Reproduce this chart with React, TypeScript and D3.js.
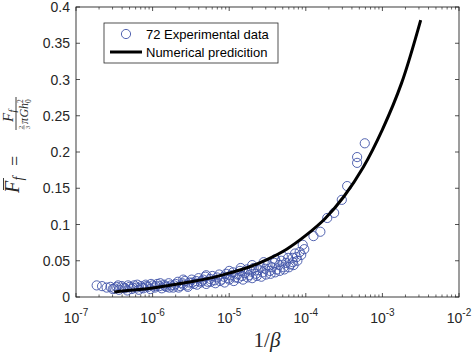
import React from "react";
import * as d3 from "d3";

// Experimental data: log10(1/beta) and F_f
const expLogInvBeta = [
  -6.73, -6.66, -6.6, -6.52,
  -6.47, -6.44, -6.4, -6.36, -6.33, -6.3, -6.27, -6.24, -6.21, -6.18, -6.15, -6.12, -6.09, -6.06, -6.03, -6.0,
  -5.97, -5.94, -5.91, -5.88, -5.85, -5.82, -5.79, -5.76, -5.73, -5.7, -5.67, -5.64, -5.61, -5.58, -5.55, -5.52,
  -5.49, -5.46, -5.43, -5.4, -5.37, -5.34, -5.31, -5.28, -5.25, -5.22, -5.19, -5.16, -5.13, -5.1, -5.07, -5.04, -5.01,
  -4.98, -4.95, -4.92, -4.89, -4.86, -4.83, -4.8, -4.77, -4.74, -4.71, -4.68, -4.65, -4.62, -4.59, -4.56, -4.53, -4.5,
  -4.47, -4.44, -4.41, -4.38, -4.35, -4.32, -4.29, -4.26, -4.23, -4.2, -4.17, -4.14, -4.11, -4.08, -4.04, -4.17,
  -3.9, -3.81, -3.72, -3.63, -3.53, -3.46, -3.33, -3.33, -3.23,
  -6.55, -6.5, -6.45, -6.38, -6.32, -6.26, -6.2, -6.14, -6.08, -6.02, -5.96, -5.9, -5.84, -5.78, -5.72, -5.66,
  -5.6, -5.54, -5.48, -5.42, -5.36, -5.3, -5.24, -5.18, -5.12, -5.06, -5.0, -4.94, -4.88, -4.82, -4.76, -4.7,
  -4.64, -4.58, -4.52, -4.46, -4.4, -4.34, -4.28, -4.22, -4.16, -4.12, -4.06, -4.02,
  -5.6, -5.3, -5.0, -4.85, -4.7, -4.55, -4.4, -4.3,
];
const expF = [
  0.016, 0.015, 0.013, 0.011,
  0.014, 0.01, 0.015, 0.012, 0.009, 0.014, 0.011, 0.016, 0.013, 0.01, 0.015, 0.012, 0.017, 0.014, 0.011, 0.016,
  0.013, 0.018, 0.015, 0.012, 0.017, 0.014, 0.019, 0.016, 0.013, 0.018, 0.021, 0.015, 0.019, 0.022, 0.016, 0.02,
  0.024, 0.018, 0.022, 0.026, 0.02, 0.024, 0.028, 0.021, 0.025, 0.029, 0.023, 0.027, 0.031, 0.024, 0.028, 0.032, 0.026,
  0.03, 0.034, 0.027, 0.031, 0.036, 0.029, 0.033, 0.038, 0.03, 0.035, 0.04, 0.032, 0.037, 0.042, 0.034, 0.039, 0.044,
  0.036, 0.041, 0.047, 0.038, 0.044, 0.05, 0.041, 0.047, 0.054, 0.045, 0.054, 0.06, 0.05, 0.062, 0.072, 0.048,
  0.084, 0.09, 0.109, 0.116, 0.134, 0.153, 0.185, 0.193, 0.212,
  0.014, 0.012, 0.016, 0.013, 0.016, 0.013, 0.017, 0.013, 0.015, 0.018, 0.015, 0.019, 0.015, 0.013, 0.016, 0.013,
  0.017, 0.014, 0.02, 0.017, 0.022, 0.018, 0.021, 0.019, 0.022, 0.02, 0.024, 0.022, 0.026, 0.024, 0.027, 0.026,
  0.029, 0.028, 0.031, 0.032, 0.034, 0.036, 0.038, 0.041, 0.044, 0.055, 0.058, 0.066,
  0.024, 0.03, 0.036, 0.04, 0.044, 0.048, 0.052, 0.056,
];

// Numerical prediction curve
const predLogInvBeta = [-6.5, -6.25, -6.0, -5.75, -5.5, -5.25, -5.0, -4.75, -4.5, -4.25, -4.0, -3.75, -3.5, -3.25, -3.0, -2.75, -2.5];
const predF = [0.007, 0.0095, 0.0125, 0.0165, 0.021, 0.026, 0.033, 0.041, 0.052, 0.066, 0.085, 0.108, 0.139, 0.179, 0.231, 0.295, 0.382];

const xTickExps = [-7, -6, -5, -4, -3, -2];
const yTicks = [0, 0.05, 0.1, 0.15, 0.2, 0.25, 0.3, 0.35, 0.4];
const yTickLabels = ["0", "0.05", "0.1", "0.15", "0.2", "0.25", "0.3", "0.35", "0.4"];
const legendLabels = ["72 Experimental data", "Numerical predicition"];

const W = 474, H = 352;
const L = 76, R = 459, T = 7, B = 297;
const AX = "#262626";
const BLUE = "#4153a8";
const SANS = "Arial, 'Liberation Sans', Helvetica, sans-serif";
const SERIF = "'Times New Roman', 'Liberation Serif', serif";

export default function App() {
  const x = d3.scaleLog().domain([1e-7, 1e-2]).range([L, R]);
  const y = d3.scaleLinear().domain([0, 0.4]).range([B, T]);

  const minor: number[] = [];
  for (let e = -7; e < -2; e++) for (let k = 2; k <= 9; k++) minor.push(k * Math.pow(10, e));

  const predData = predLogInvBeta.map((v, i) => [Math.pow(10, v), predF[i]] as [number, number]);
  const line = d3
    .line<[number, number]>()
    .x((d) => x(d[0]))
    .y((d) => y(d[1]))
    .curve(d3.curveCatmullRom);

  const majLen = 4, minLen = 2.5;

  return (
    <svg width={W} height={H} style={{ position: "absolute", left: 0, top: 0, background: "#fff" }}>
      <rect x={0} y={0} width={W} height={H} fill="#fff" />
      {/* data */}
      <g>
        {expLogInvBeta.map((v, i) => (
          <circle key={i} cx={x(Math.pow(10, v))} cy={y(expF[i])} r={4.6} fill="none" stroke={BLUE} strokeWidth={0.9} />
        ))}
      </g>
      <path d={line(predData) || ""} fill="none" stroke="#000" strokeWidth={3} />

      {/* frame */}
      <rect x={L} y={T} width={R - L} height={B - T} fill="none" stroke={AX} strokeWidth={0.9} />
      {/* x ticks */}
      {xTickExps.map((e) => {
        const px = x(Math.pow(10, e));
        return (
          <g key={e}>
            <line x1={px} x2={px} y1={B} y2={B - majLen} stroke={AX} strokeWidth={0.8} />
            <line x1={px} x2={px} y1={T} y2={T + majLen} stroke={AX} strokeWidth={0.8} />
            <text x={px} y={323} fontFamily={SANS} fontSize={14} fill={AX} textAnchor="middle">
              10<tspan dy={-7} fontSize={10}>{String(e)}</tspan>
            </text>
          </g>
        );
      })}
      {minor.map((m, i) => {
        const px = x(m);
        return (
          <g key={"m" + i}>
            <line x1={px} x2={px} y1={B} y2={B - minLen} stroke={AX} strokeWidth={0.7} />
            <line x1={px} x2={px} y1={T} y2={T + minLen} stroke={AX} strokeWidth={0.7} />
          </g>
        );
      })}
      {/* y ticks */}
      {yTicks.map((t, i) => {
        const py = y(t);
        return (
          <g key={"y" + i}>
            <line x1={L} x2={L + majLen} y1={py} y2={py} stroke={AX} strokeWidth={0.8} />
            <line x1={R} x2={R - majLen} y1={py} y2={py} stroke={AX} strokeWidth={0.8} />
            <text x={70} y={py + 5} fontFamily={SANS} fontSize={14} fill={AX} textAnchor="end">
              {yTickLabels[i]}
            </text>
          </g>
        );
      })}

      {/* x label */}
      <text x={267} y={347} fontFamily={SERIF} fontSize={21} fill={AX} textAnchor="middle">
        1/<tspan fontStyle="italic">β</tspan>
      </text>

      {/* y label */}
      <g transform="translate(19,193) rotate(-90)" fontFamily={SERIF} fill={AX}>
        <text x={0} y={0} fontSize={20} fontStyle="italic">F</text>
        <line x1={3} x2={15} y1={-15.5} y2={-15.5} stroke={AX} strokeWidth={0.9} />
        <text x={12.5} y={4} fontSize={14} fontStyle="italic">f</text>
        <text x={27} y={2} fontSize={18}>=</text>
        <line x1={63} x2={96} y1={-3} y2={-3} stroke={AX} strokeWidth={0.9} />
        <text x={71} y={-6} fontSize={15} fontStyle="italic">F</text>
        <text x={80.5} y={-3.5} fontSize={10} fontStyle="italic">f</text>
        {/* denominator: 2/3 pi G h0^2 */}
        <text x={64} y={3.5} fontSize={6.5}>2</text>
        <line x1={63.5} x2={68} y1={5} y2={5} stroke={AX} strokeWidth={0.5} />
        <text x={64} y={10.5} fontSize={6.5}>3</text>
        <text x={69} y={9} fontSize={12} fontStyle="italic">π</text>
        <text x={75.5} y={9} fontSize={12} fontStyle="italic">G</text>
        <text x={84} y={9} fontSize={12} fontStyle="italic">h</text>
        <text x={90} y={11.5} fontSize={7.5}>0</text>
        <text x={90} y={3.5} fontSize={7.5}>2</text>
      </g>

      {/* legend */}
      <rect x={104} y={23} width={174} height={40} fill="#fff" stroke={AX} strokeWidth={0.8} />
      <circle cx={126} cy={34} r={4.6} fill="none" stroke={BLUE} strokeWidth={0.9} />
      <text x={146} y={38.5} fontFamily={SANS} fontSize={13} fill="#000">{legendLabels[0]}</text>
      <line x1={110} x2={142} y1={52} y2={52} stroke="#000" strokeWidth={3} />
      <text x={146} y={57} fontFamily={SANS} fontSize={13} fill="#000">{legendLabels[1]}</text>
    </svg>
  );
}
